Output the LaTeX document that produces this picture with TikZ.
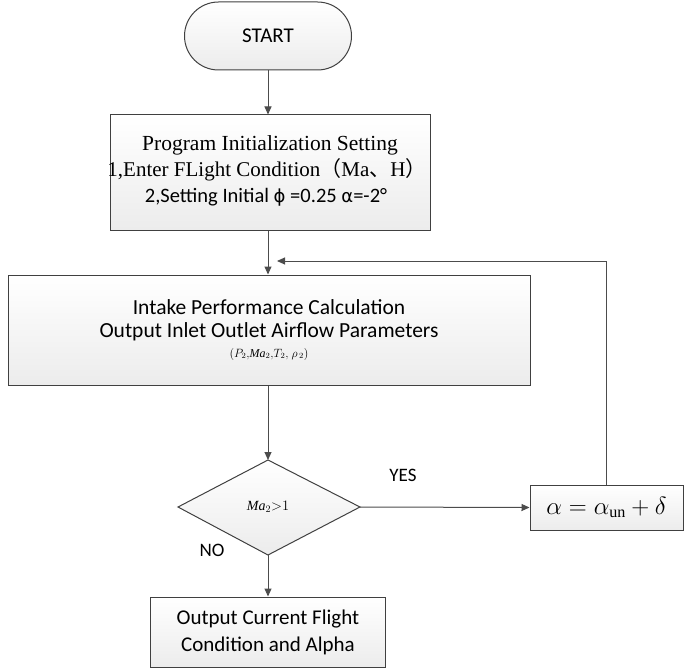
\documentclass[tikz,border=0pt]{standalone}
\usepackage{fontspec}
\setmainfont{Liberation Serif}
\setsansfont{Carlito}
\newfontfamily\cjk{Noto Sans CJK SC}
\newfontfamily\dv{DejaVu Sans}
\usetikzlibrary{shapes.misc,arrows.meta}
\tikzset{
  box/.style={draw=black!75,line width=1pt,top color=white,bottom color=gray!15,align=center,inner sep=0pt},
  conn/.style={draw=black!70,line width=1pt,-{Triangle[length=8pt,width=7pt]}},
}
\begin{document}
\begin{tikzpicture}[x=1pt,y=-1pt,font=\sffamily]
\useasboundingbox (0,0) rectangle (685,671);
\node[box,rounded rectangle,minimum width=167pt,minimum height=68pt,font=\sffamily\fontsize{21}{24}\selectfont] (start) at (268,36) {START};
\node[box,minimum width=320pt,minimum height=115pt] (init) at (270,172.5) {};
\node[font=\fontsize{21.5}{24}\selectfont] at (270,145) {Program Initialization Setting};
\node[font=\fontsize{21}{24}\selectfont] at (267,170) {1,Enter FLight Condition{\cjk（}Ma{\cjk 、}H{\cjk）}};
\node[font=\sffamily\fontsize{20.5}{24}\selectfont] at (266,197) {2,Setting Initial {\dv\fontsize{18}{22}\selectfont ϕ} =0.25 {\dv\fontsize{18}{22}\selectfont α}=-2°};
\node[box,minimum width=522pt,minimum height=110pt] (intake) at (269,330) {};
\node[font=\sffamily\fontsize{21.5}{24}\selectfont] at (269,307) {Intake Performance Calculation};
\node[font=\sffamily\fontsize{21.5}{24}\selectfont] at (269,332) {Output Inlet Outlet Airflow Parameters};
\node[font=\fontsize{12}{14}\selectfont] at (269,354) {$(P_2{,}\mathit{Ma}_2{,}T_2{,}\ \rho_{\,2})$};
\draw[draw=black!75,line width=1pt,top color=white,bottom color=gray!15] (178,507) coordinate (dl) -- (268,460) coordinate (dt) -- (360,507) coordinate (dr) -- (268,555) coordinate (db) -- cycle;
\node[font=\fontsize{14}{16}\selectfont] (dtext) at (268,507) {$\mathit{Ma}_2{>}1$};
\node[box,minimum width=153pt,minimum height=45pt,font=\fontsize{23}{26}\selectfont] (alpha) at (606.5,507.5) {$\alpha=\alpha_{\mathrm{un}}+\delta$};
\node[box,minimum width=235pt,minimum height=70pt,font=\sffamily\fontsize{21}{27}\selectfont] (out) at (268,632) {Output Current Flight\\Condition and Alpha};
\node[font=\sffamily\fontsize{19}{22}\selectfont] (yes) at (403,475) {YES};
\node[font=\sffamily\fontsize{19}{22}\selectfont] (no) at (212,550) {NO};
\draw[conn] (start.south) -- (init.north -| start.south);
\draw[conn] (init.south -| start.south) -- (intake.north -| start.south);
\draw[conn] (intake.south -| start.south) -- (dt);
\draw[conn] (dr) -- (alpha.west);
\draw[conn] (db) -- (out.north);
\coordinate (fb) at (277,261);
\draw[conn] (alpha.north) |- (fb);
\end{tikzpicture}
\end{document}
